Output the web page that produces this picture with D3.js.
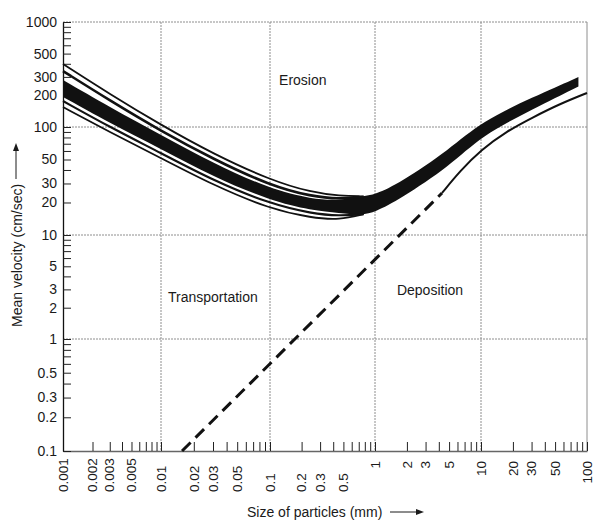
<!DOCTYPE html>
<html lang="en">
<head>
    <meta charset="UTF-8">
    <title>Hjulstrom curve</title>
    <style>
        html, body { margin: 0; background: #fff; overflow: hidden; }
        svg { display: block; font-family: "Liberation Sans", Arial, Helvetica, sans-serif; }
    </style>
    <script src="https://d3js.org/d3.v7.min.js"></script>
</head>
<body>
    <svg id="svg"></svg>
    <script>
        // tick labels
        const xTickLabels = [0.001, 0.002, 0.003, 0.005, 0.01, 0.02, 0.03, 0.05, 0.1, 0.2, 0.3, 0.5, 1, 2, 3, 5, 10, 20, 30, 50, 100];
        const yTickLabels = [1000, 500, 300, 200, 100, 50, 30, 20, 10, 5, 3, 2, 1, 0.5, 0.3, 0.2, 0.1];
        const xGrid = [0.01, 0.1, 1, 10, 100];
        const yGrid = [1000, 100, 10, 1];

        // the bundle of thin lines left of the minimum (size mm -> velocity cm/sec)
        const bundleSizes = [0.001, 0.003, 0.01, 0.03, 0.1, 0.25, 0.46, 0.78];
        const line1 = [398, 206, 104.5, 56.5, 32.3, 24.75, 23.0, 22.8];
        const line2 = [341, 179, 91.8, 50.6, 28.7, 22.7, 21.5, 22.5];
        const line4 = [177, 100, 57.4, 32.0, 19.4, 15.8, 15.0, 15.6];
        const line5 = [155, 89.9, 51.6, 29.0, 17.4, 14.4, 13.8, 15.6];

        // black erosion band
        const bandSizes = [0.001, 0.003, 0.01, 0.03, 0.1, 0.25, 0.46, 0.75, 1, 1.72, 5.1, 10, 31, 83];
        const bandTop = [281, 155, 84.4, 46.4, 26.7, 21.5, 20.9, 22.8, 23.6, 30.3, 62.6, 111.6, 193, 299];
        const bandBottom = [193, 109, 62.6, 34.8, 20.8, 16.9, 16.0, 15.3, 16.3, 21.5, 43.5, 82.5, 148, 243];

        // deposition boundary: dashed part then solid part
        const dashSizes = [0.0156, 4.29];
        const dashVel = [0.1, 24.5];
        const depSizes = [4.29, 6.34, 10, 17.6, 31, 55.6, 100];
        const depVel = [24.5, 39.1, 61.3, 91.8, 124, 166, 211];

        const regionNames = ['Erosion', 'Transportation', 'Deposition'];
        const regionSize = [0.122, 0.0116, 1.61];
        const regionVel = [251, 2.27, 2.65];

        const width = 604, height = 527;
        const svg = d3.select('#svg').attr('width', width).attr('height', height);

        // decades are not quite evenly spaced in the original, so piecewise log scales
        const x = d3.scaleLog()
            .domain([0.001, 0.01, 0.1, 1, 10, 100])
            .range([63, 161, 270, 375, 481, 587]);
        const y = d3.scaleLog()
            .domain([1000, 100, 10, 1, 0.1])
            .range([22, 127, 235, 339, 451]);

        const plotLeft = x(0.001), plotRight = x(100), plotTop = y(1000), plotBottom = y(0.1);

        // grid
        const grid = svg.append('g').attr('stroke', '#8e8e8e').attr('stroke-width', 1);
        grid.selectAll('.vg').data(xGrid).join('line').attr('class', 'vg')
            .attr('x1', d => x(d)).attr('x2', d => x(d))
            .attr('y1', plotTop).attr('y2', plotBottom)
            .attr('stroke-dasharray', d => d === 100 ? null : '2,1');
        grid.selectAll('.hg').data(yGrid).join('line').attr('class', 'hg')
            .attr('y1', d => y(d)).attr('y2', d => y(d))
            .attr('x1', plotLeft).attr('x2', plotRight)
            .attr('stroke-dasharray', '2,1');

        // minor ticks
        const xAxis = d3.axisBottom(x).tickValues(x.ticks()).tickSize(-9).tickSizeOuter(0).tickFormat('');
        const gx = svg.append('g').attr('transform', `translate(0,${plotBottom})`).call(xAxis);
        gx.select('.domain').attr('stroke', '#666').attr('stroke-width', 1.5);
        gx.selectAll('.tick line').attr('stroke', '#222');

        const yAxis = d3.axisRight(y).tickValues(y.ticks()).tickSize(8).tickSizeOuter(0).tickFormat('');
        const gy = svg.append('g').attr('transform', `translate(${plotLeft},0)`).call(yAxis);
        gy.select('.domain').attr('stroke', '#111').attr('stroke-width', 1.3);
        gy.selectAll('.tick line').attr('stroke', '#222');

        // tick labels
        const fmt = d => String(d);
        svg.append('g').selectAll('text').data(yTickLabels).join('text')
            .attr('x', 57).attr('y', d => y(d)).attr('dy', '0.35em')
            .attr('text-anchor', 'end').attr('font-size', 14).attr('fill', '#1a1a1a')
            .text(fmt);

        svg.append('g').selectAll('text').data(xTickLabels).join('text')
            .attr('transform', d => `translate(${x(d)},${d < 1 ? 492 : 461}) rotate(-90)`)
            .attr('dy', '0.35em')
            .attr('text-anchor', d => d < 1 ? 'start' : 'end')
            .attr('font-size', 13.5).attr('fill', '#1a1a1a')
            .text(fmt);

        // curves (hand drawn in the original, so a smoothing spline)
        const pts = (xs, ys) => xs.map((s, i) => [s, ys[i]]);
        const line = d3.line().x(d => x(d[0])).y(d => y(d[1])).curve(d3.curveBasis);

        const area = d3.area()
            .x(d => x(d.s)).y0(d => y(d.lo)).y1(d => y(d.hi))
            .curve(d3.curveBasis);
        svg.append('path')
            .datum(bandSizes.map((s, i) => ({ s, hi: bandTop[i], lo: bandBottom[i] })))
            .attr('d', area).attr('fill', '#111');

        const bundle = [
            { v: line1, w: 1.8 },
            { v: line2, w: 2.6 },
            { v: line4, w: 2.1 },
            { v: line5, w: 1.8 }
        ];
        svg.append('g').selectAll('path').data(bundle).join('path')
            .attr('d', d => line(pts(bundleSizes, d.v)))
            .attr('fill', 'none').attr('stroke', '#111').attr('stroke-width', d => d.w);

        svg.append('path')
            .attr('d', line(pts(dashSizes, dashVel)))
            .attr('fill', 'none').attr('stroke', '#111').attr('stroke-width', 3)
            .attr('stroke-dasharray', '12,7');

        svg.append('path')
            .attr('d', line(pts(depSizes, depVel)))
            .attr('fill', 'none').attr('stroke', '#111').attr('stroke-width', 2);

        // region labels
        svg.append('g').selectAll('text').data(regionNames).join('text')
            .attr('x', (d, i) => x(regionSize[i]))
            .attr('y', (d, i) => y(regionVel[i]))
            .attr('font-size', 14).attr('fill', '#1a1a1a')
            .text(d => d);

        // axis titles with arrows
        svg.append('text')
            .attr('x', 247).attr('y', 517)
            .attr('font-size', 14).attr('fill', '#1a1a1a')
            .text('Size of particles (mm)');
        svg.append('line').attr('x1', 390).attr('x2', 417).attr('y1', 512).attr('y2', 512)
            .attr('stroke', '#1a1a1a').attr('stroke-width', 1);
        svg.append('path').attr('d', 'M424,512L416,509L416,515Z').attr('fill', '#1a1a1a');

        svg.append('text')
            .attr('transform', 'translate(17,327) rotate(-90)')
            .attr('dy', '0.35em')
            .attr('font-size', 14).attr('fill', '#1a1a1a')
            .text('Mean velocity (cm/sec)');
        svg.append('line').attr('x1', 16).attr('x2', 16).attr('y1', 179).attr('y2', 150)
            .attr('stroke', '#1a1a1a').attr('stroke-width', 1);
        svg.append('path').attr('d', 'M16,143L13,151L19,151Z').attr('fill', '#1a1a1a');
    </script>
</body>
</html>
